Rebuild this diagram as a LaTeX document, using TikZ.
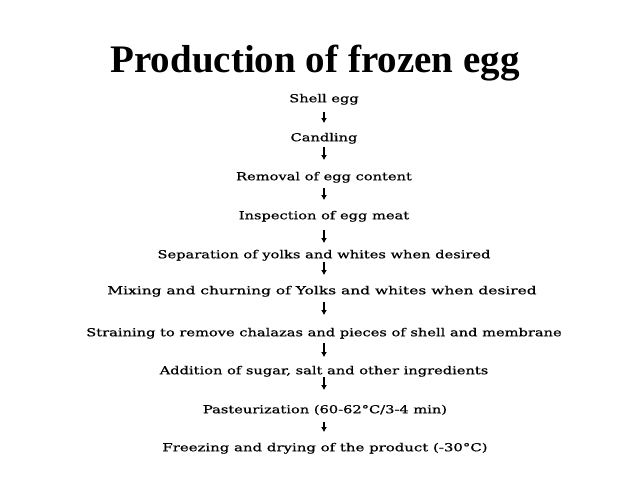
\documentclass[tikz,border=0pt]{standalone}
\usepackage{fontspec}
\setmainfont{Liberation Serif}
\newfontfamily\flowfont[FakeStretch=1.33,FakeBold=0.8]{DejaVu Serif}
\usetikzlibrary{arrows.meta}
\tikzset{
  stepbox/.style={inner sep=0pt, anchor=center, font=\flowfont\fontsize{11}{13}\selectfont, text height=7.5pt, text depth=3pt},
  flowarrow/.style={-{Latex[length=5pt,width=6pt]}, line width=1.3pt},
  titletext/.style={inner sep=0pt, anchor=base, font=\bfseries\fontsize{39}{43}\selectfont}
}
\begin{document}
\begin{tikzpicture}[x=1pt,y=-1pt]
\useasboundingbox (0,0) rectangle (638,478);
\node[titletext] (title) at (315,73) {Production of frozen egg};
\node[stepbox] (s1) at (324,100) {Shell egg};
\node[stepbox] (s2) at (324,139) {Candling};
\node[stepbox] (s3) at (324,178) {Removal of egg content};
\node[stepbox] (s4) at (324,217) {Inspection of egg meat};
\node[stepbox] (s5) at (324,256) {Separation of yolks and whites when desired};
\node[stepbox] (s6) at (322,292) {\scalebox{1.055}[1]{Mixing and churning of Yolks and whites when desired}};
\node[stepbox] (s7) at (324,334) {Straining to remove chalazas and pieces of shell and membrane};
\node[stepbox] (s8) at (324,372) {Addition of sugar, salt and other ingredients};
\node[stepbox] (s9) at (325,411) {Pasteurization (60-62°C/3-4 min)};
\node[stepbox] (s10) at (325,449) {\scalebox{1.02}[1]{Freezing and drying of the product (-30°C)}};
\foreach \a/\b/\sa/\sb in {s1/s2/6.5/10.5, s2/s3/2.5/12.5, s3/s4/4.5/11.5, s4/s5/7.5/7.5, s5/s6/0.5/11.5, s6/s7/4.5/13.5, s7/s8/3.5/9.5, s8/s9/0/15.5, s9/s10/5.5/11.5}
  \draw[flowarrow, shorten <=\sa pt, shorten >=\sb pt] (\a.south -| s1.south) -- (\b.north -| s1.south);
\end{tikzpicture}
\end{document}
